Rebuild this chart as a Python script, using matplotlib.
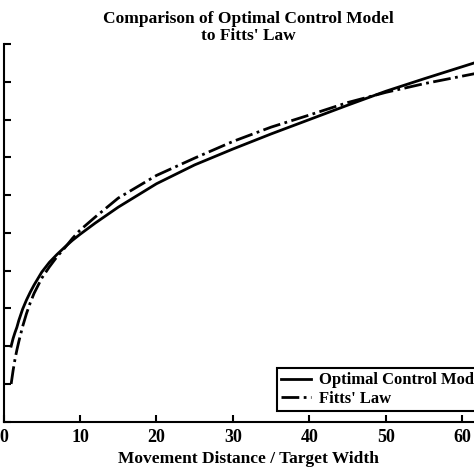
import matplotlib
matplotlib.use("Agg")
import matplotlib.pyplot as plt
from matplotlib.ticker import NullFormatter

# values (y in axis tick units, labels cropped away)
dist_ratio = [1, 1.25, 1.5, 1.75, 2, 2.5, 3, 3.5, 4, 5, 6, 7, 8, 9, 10,
              12, 15, 20, 25, 30, 35, 40, 45, 50, 55, 60, 65]
optimal_control = [2.00, 2.20, 2.36, 2.50, 2.68, 2.98, 3.22, 3.43, 3.62, 3.96,
                   4.22, 4.43, 4.62, 4.80, 4.96, 5.26, 5.68, 6.30, 6.80, 7.22,
                   7.62, 8.00, 8.38, 8.75, 9.08, 9.40, 9.72]
fitts_law = [1.00, 1.35, 1.65, 1.90, 2.12, 2.52, 2.86, 3.15, 3.40, 3.80,
             4.10, 4.37, 4.60, 4.85, 5.07, 5.42, 5.92, 6.52, 6.98, 7.42,
             7.80, 8.12, 8.45, 8.72, 8.95, 9.15, 9.35]

x_ticks = [0, 10, 20, 30, 40, 50, 60]
y_ticks = list(range(0, 11))

plt.rcParams['font.family'] = ['Liberation Serif', 'DejaVu Serif']
plt.rcParams['font.weight'] = 'bold'

W, H = 474, 474
fig = plt.figure(figsize=(W / 100, H / 100), dpi=100)
left_px, right_px, bot_px, top_px = 3.5, 493, 421.7, 44
ax = fig.add_axes([left_px / W, (H - bot_px) / H,
                   (right_px - left_px) / W, (bot_px - top_px) / H])

ax.plot(dist_ratio, optimal_control, color='black', lw=2, ls='-',
        label='Optimal Control Model')
ax.plot(dist_ratio, fitts_law, color='black', lw=2, ls='-.',
        label="Fitts' Law")

ax.set_xlim(0, 64)
ax.set_ylim(0, 10)
ax.set_xticks(x_ticks)
ax.set_yticks(y_ticks)
ax.yaxis.set_major_formatter(NullFormatter())
ax.tick_params(direction='in', length=5, width=1.5, labelsize=13, pad=5)

for side in ['top', 'right']:
    ax.spines[side].set_visible(False)
for side in ['left', 'bottom']:
    ax.spines[side].set_linewidth(1.5)

ax.set_title("Comparison of Optimal Control Model\nto Fitts' Law",
             fontsize=12.5, fontweight='bold', pad=3, linespacing=1.1)
ax.set_xlabel('Movement Distance / Target Width', fontsize=12.5,
              fontweight='bold', labelpad=4)

leg = ax.legend(loc='lower right', bbox_to_anchor=(1.012, 0.006), fontsize=12,
                frameon=True, fancybox=False, framealpha=1, edgecolor='black',
                handlelength=1.8, borderpad=0.25, labelspacing=0.15,
                handletextpad=0.5)
leg.get_frame().set_linewidth(1.5)

fig.savefig('out.png', dpi=100)
